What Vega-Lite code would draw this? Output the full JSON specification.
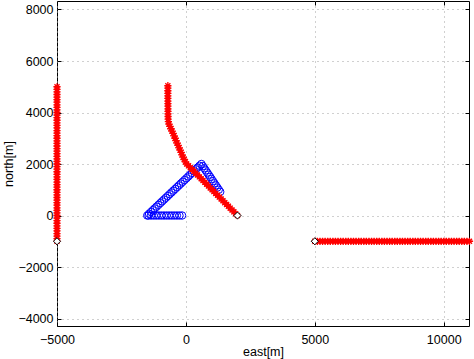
{
  "$schema": "https://vega.github.io/schema/vega-lite/v6.json",
  "autosize": "none",
  "width": 412,
  "height": 325,
  "padding": {"left": 57, "top": 1, "right": 5, "bottom": 33},
  "background": "white",
  "config": {
    "view": {"stroke": "black", "strokeWidth": 1},
    "font": "Liberation Sans",
    "axis": {
      "labelFont": "Liberation Sans",
      "titleFont": "Liberation Sans",
      "labelFontSize": 12.5,
      "titleFontSize": 12.5,
      "titleFontWeight": "normal",
      "labelColor": "black",
      "titleColor": "black",
      "tickColor": "black",
      "domain": false,
      "labelFlush": false,
      "labelOverlap": false,
      "format": "d"
    }
  },
  "datasets": {
    "red": [
      {"east": -5000, "north": -1000}, {"east": -5000, "north": -900}, {"east": -5000, "north": -800}, {"east": -5000, "north": -700}, {"east": -5000, "north": -600}, {"east": -5000, "north": -500}, {"east": -5000, "north": -400}, {"east": -5000, "north": -300}, {"east": -5000, "north": -200}, {"east": -5000, "north": -100},
      {"east": -5000, "north": 0}, {"east": -5000, "north": 100}, {"east": -5000, "north": 200}, {"east": -5000, "north": 300}, {"east": -5000, "north": 400}, {"east": -5000, "north": 500}, {"east": -5000, "north": 600}, {"east": -5000, "north": 700}, {"east": -5000, "north": 800}, {"east": -5000, "north": 900},
      {"east": -5000, "north": 1000}, {"east": -5000, "north": 1100}, {"east": -5000, "north": 1200}, {"east": -5000, "north": 1300}, {"east": -5000, "north": 1400}, {"east": -5000, "north": 1500}, {"east": -5000, "north": 1600}, {"east": -5000, "north": 1700}, {"east": -5000, "north": 1800}, {"east": -5000, "north": 1900},
      {"east": -5000, "north": 2000}, {"east": -5000, "north": 2100}, {"east": -5000, "north": 2200}, {"east": -5000, "north": 2300}, {"east": -5000, "north": 2400}, {"east": -5000, "north": 2500}, {"east": -5000, "north": 2600}, {"east": -5000, "north": 2700}, {"east": -5000, "north": 2800}, {"east": -5000, "north": 2900},
      {"east": -5000, "north": 3000}, {"east": -5000, "north": 3100}, {"east": -5000, "north": 3200}, {"east": -5000, "north": 3300}, {"east": -5000, "north": 3400}, {"east": -5000, "north": 3500}, {"east": -5000, "north": 3600}, {"east": -5000, "north": 3700}, {"east": -5000, "north": 3800}, {"east": -5000, "north": 3900},
      {"east": -5000, "north": 4000}, {"east": -5000, "north": 4100}, {"east": -5000, "north": 4200}, {"east": -5000, "north": 4300}, {"east": -5000, "north": 4400}, {"east": -5000, "north": 4500}, {"east": -5000, "north": 4600}, {"east": -5000, "north": 4700}, {"east": -5000, "north": 4800}, {"east": -5000, "north": 4900}, {"east": -5000, "north": 5000},

      {"east": 2000, "north": 0}, {"east": 1930, "north": 71}, {"east": 1859, "north": 143}, {"east": 1789, "north": 214}, {"east": 1719, "north": 286}, {"east": 1648, "north": 357}, {"east": 1578, "north": 429}, {"east": 1507, "north": 500}, {"east": 1437, "north": 572}, {"east": 1367, "north": 643},
      {"east": 1296, "north": 715}, {"east": 1226, "north": 786}, {"east": 1156, "north": 858}, {"east": 1085, "north": 929}, {"east": 1015, "north": 1001}, {"east": 944, "north": 1072}, {"east": 874, "north": 1144}, {"east": 804, "north": 1215}, {"east": 733, "north": 1287}, {"east": 663, "north": 1358},
      {"east": 593, "north": 1430}, {"east": 522, "north": 1501}, {"east": 452, "north": 1573}, {"east": 381, "north": 1644}, {"east": 311, "north": 1716}, {"east": 241, "north": 1787}, {"east": 170, "north": 1859}, {"east": 100, "north": 1930}, {"east": 30, "north": 2000}, {"east": -20, "north": 2085},
      {"east": -65, "north": 2175}, {"east": -110, "north": 2265}, {"east": -150, "north": 2355}, {"east": -185, "north": 2450}, {"east": -225, "north": 2540}, {"east": -265, "north": 2630}, {"east": -305, "north": 2725}, {"east": -345, "north": 2815}, {"east": -385, "north": 2910}, {"east": -420, "north": 3000},
      {"east": -460, "north": 3095}, {"east": -500, "north": 3190}, {"east": -540, "north": 3280}, {"east": -580, "north": 3370}, {"east": -620, "north": 3460}, {"east": -660, "north": 3550}, {"east": -680, "north": 3645}, {"east": -690, "north": 3745}, {"east": -692, "north": 3845}, {"east": -694, "north": 3945},
      {"east": -695, "north": 4045}, {"east": -696, "north": 4145}, {"east": -697, "north": 4245}, {"east": -698, "north": 4345}, {"east": -699, "north": 4445}, {"east": -700, "north": 4545}, {"east": -700, "north": 4645}, {"east": -700, "north": 4745}, {"east": -700, "north": 4845}, {"east": -700, "north": 4945}, {"east": -700, "north": 5040},

      {"east": 5000, "north": -1000}, {"east": 5100, "north": -1000}, {"east": 5200, "north": -1000}, {"east": 5300, "north": -1000}, {"east": 5400, "north": -1000}, {"east": 5500, "north": -1000}, {"east": 5600, "north": -1000}, {"east": 5700, "north": -1000}, {"east": 5800, "north": -1000}, {"east": 5900, "north": -1000},
      {"east": 6000, "north": -1000}, {"east": 6100, "north": -1000}, {"east": 6200, "north": -1000}, {"east": 6300, "north": -1000}, {"east": 6400, "north": -1000}, {"east": 6500, "north": -1000}, {"east": 6600, "north": -1000}, {"east": 6700, "north": -1000}, {"east": 6800, "north": -1000}, {"east": 6900, "north": -1000},
      {"east": 7000, "north": -1000}, {"east": 7100, "north": -1000}, {"east": 7200, "north": -1000}, {"east": 7300, "north": -1000}, {"east": 7400, "north": -1000}, {"east": 7500, "north": -1000}, {"east": 7600, "north": -1000}, {"east": 7700, "north": -1000}, {"east": 7800, "north": -1000}, {"east": 7900, "north": -1000},
      {"east": 8000, "north": -1000}, {"east": 8100, "north": -1000}, {"east": 8200, "north": -1000}, {"east": 8300, "north": -1000}, {"east": 8400, "north": -1000}, {"east": 8500, "north": -1000}, {"east": 8600, "north": -1000}, {"east": 8700, "north": -1000}, {"east": 8800, "north": -1000}, {"east": 8900, "north": -1000},
      {"east": 9000, "north": -1000}, {"east": 9100, "north": -1000}, {"east": 9200, "north": -1000}, {"east": 9300, "north": -1000}, {"east": 9400, "north": -1000}, {"east": 9500, "north": -1000}, {"east": 9600, "north": -1000}, {"east": 9700, "north": -1000}, {"east": 9800, "north": -1000}, {"east": 9900, "north": -1000},
      {"east": 10000, "north": -1000}, {"east": 10100, "north": -1000}, {"east": 10200, "north": -1000}, {"east": 10300, "north": -1000}, {"east": 10400, "north": -1000}, {"east": 10500, "north": -1000}, {"east": 10600, "north": -1000}, {"east": 10700, "north": -1000}, {"east": 10800, "north": -1000}, {"east": 10900, "north": -1000}, {"east": 11000, "north": -1000}
    ],
    "blue": [
      {"east": -150, "north": 0}, {"east": -250, "north": 0}, {"east": -350, "north": 0}, {"east": -450, "north": 0}, {"east": -550, "north": 0}, {"east": -650, "north": 0}, {"east": -750, "north": 0}, {"east": -850, "north": 0}, {"east": -950, "north": 0}, {"east": -1050, "north": 0},
      {"east": -1150, "north": 0}, {"east": -1250, "north": 0}, {"east": -1350, "north": 0}, {"east": -1450, "north": 0}, {"east": -1500, "north": 0},
      {"east": -1428, "north": 69}, {"east": -1355, "north": 138}, {"east": -1283, "north": 207}, {"east": -1210, "north": 276}, {"east": -1138, "north": 345}, {"east": -1066, "north": 414}, {"east": -993, "north": 483}, {"east": -921, "north": 552}, {"east": -848, "north": 621}, {"east": -776, "north": 690},
      {"east": -703, "north": 759}, {"east": -631, "north": 828}, {"east": -559, "north": 897}, {"east": -486, "north": 966}, {"east": -414, "north": 1034}, {"east": -341, "north": 1103}, {"east": -269, "north": 1172}, {"east": -197, "north": 1241}, {"east": -124, "north": 1310}, {"east": -52, "north": 1379},
      {"east": 21, "north": 1448}, {"east": 93, "north": 1517}, {"east": 166, "north": 1586}, {"east": 238, "north": 1655}, {"east": 310, "north": 1724}, {"east": 383, "north": 1793}, {"east": 455, "north": 1862}, {"east": 528, "north": 1931}, {"east": 600, "north": 2000},
      {"east": 656, "north": 1917}, {"east": 712, "north": 1834}, {"east": 768, "north": 1751}, {"east": 825, "north": 1668}, {"east": 881, "north": 1585}, {"east": 937, "north": 1502}, {"east": 993, "north": 1418}, {"east": 1049, "north": 1335}, {"east": 1105, "north": 1252}, {"east": 1162, "north": 1169},
      {"east": 1218, "north": 1086}, {"east": 1274, "north": 1003}, {"east": 1330, "north": 920}
    ],
    "start": [
      {"east": -5000, "north": -1000},
      {"east": 2000, "north": 0},
      {"east": 5000, "north": -1000}
    ]
  },
  "layer": [
    {
      "data": {"name": "blue"},
      "mark": {"type": "point", "shape": "circle", "filled": false, "stroke": "#0000ff", "strokeWidth": 1, "size": 56, "opacity": 1, "clip": false},
      "encoding": {
        "x": {
          "field": "east", "type": "quantitative",
          "scale": {"domain": [-5000, 10980], "nice": false, "zero": false},
          "axis": {"orient": "bottom", "title": "east[m]", "values": [-5000, 0, 5000, 10000], "grid": true, "gridColor": "#a0a0a0", "gridDash": [1, 4], "gridWidth": 1, "tickSize": -4, "labelPadding": 11, "titlePadding": 0}
        },
        "y": {
          "field": "north", "type": "quantitative",
          "scale": {"domain": [-4290, 8330], "nice": false, "zero": false},
          "axis": {"orient": "left", "title": "north[m]", "values": [-4000, -2000, 0, 2000, 4000, 6000, 8000], "grid": true, "gridColor": "#a0a0a0", "gridDash": [1, 4], "gridWidth": 1, "tickSize": -4, "labelPadding": 8, "titlePadding": 2}
        }
      }
    },
    {
      "data": {"name": "red"},
      "mark": {"type": "point", "shape": "M-1,0L1,0M0,-1L0,1M-0.7,-0.7L0.7,0.7M-0.7,0.7L0.7,-0.7", "filled": false, "stroke": "#ff0000", "strokeWidth": 1.3, "size": 52, "opacity": 1, "clip": false},
      "encoding": {
        "x": {
          "field": "east", "type": "quantitative",
          "axis": {"orient": "top", "title": null, "labels": false, "grid": false, "values": [-5000, 0, 5000, 10000], "tickSize": -4}
        },
        "y": {
          "field": "north", "type": "quantitative",
          "axis": {"orient": "right", "title": null, "labels": false, "grid": false, "values": [-4000, -2000, 0, 2000, 4000, 6000, 8000], "tickSize": -4}
        }
      }
    },
    {
      "data": {"name": "start"},
      "mark": {"type": "point", "shape": "diamond", "filled": true, "fill": "white", "stroke": "black", "strokeWidth": 1, "size": 50, "opacity": 1, "clip": false},
      "encoding": {
        "x": {"field": "east", "type": "quantitative", "axis": null},
        "y": {"field": "north", "type": "quantitative", "axis": null}
      }
    }
  ],
  "resolve": {"axis": {"x": "independent", "y": "independent"}}
}
